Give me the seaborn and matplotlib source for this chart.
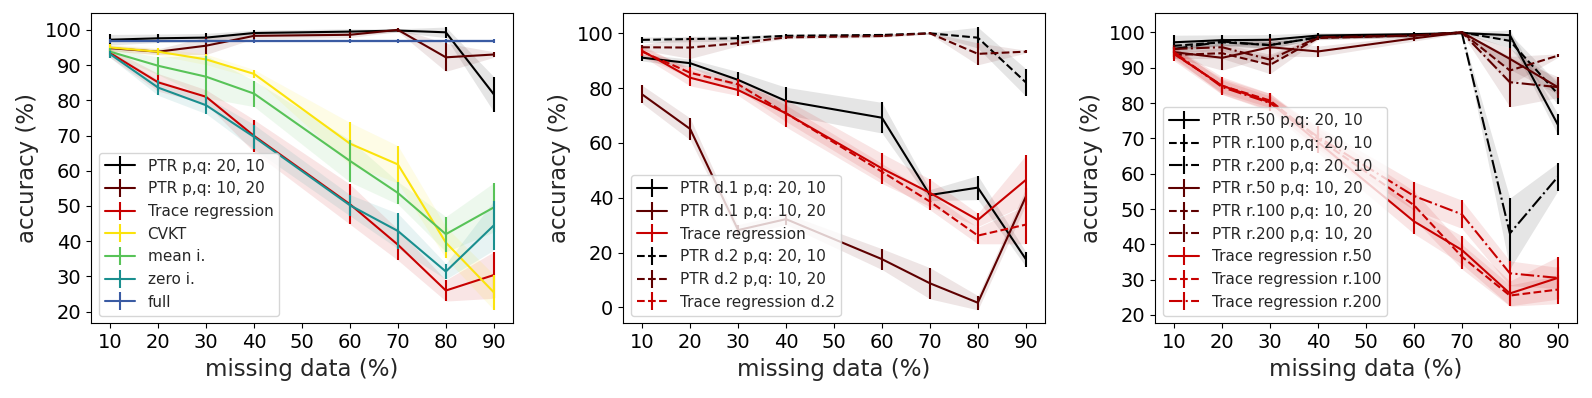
import matplotlib
matplotlib.use("Agg")
import matplotlib.pyplot as plt
from matplotlib.lines import Line2D
import numpy as np
import seaborn as sns

sns.set_style("ticks")
plt.rcParams['font.family'] = ['DejaVu Sans']
plt.rcParams['axes.edgecolor'] = 'black'
plt.rcParams['axes.linewidth'] = 0.8
plt.rcParams['xtick.major.size'] = 3.5
plt.rcParams['ytick.major.size'] = 3.5
plt.rcParams['xtick.color'] = 'black'
plt.rcParams['ytick.color'] = 'black'

# missing data levels
missing = [10, 20, 30, 40, 60, 70, 80, 90]

# colours
BLACK = '#000000'
DARKRED = '#5e0000'
RED = '#c80000'
YELLOW = '#fbe30c'
GREEN = '#58c358'
TEAL = '#1a8f8f'
BLUE = '#3a5ba3'

# ---- panel 1 ----
p1_labels = ['PTR p,q: 20, 10', 'PTR p,q: 10, 20', 'Trace regression',
             'CVKT', 'mean i.', 'zero i.', 'full']
p1_means = [
    [97.2, 97.6, 97.8, 99.1, 99.5, 99.8, 99.3, 81.7],
    [94.8, 93.8, 95.5, 98.3, 98.6, 100.0, 92.2, 93.0],
    [93.4, 85.1, 81.0, 69.9, 50.5, 39.0, 26.0, 30.4],
    [95.0, 93.8, 91.6, 87.5, 67.7, 61.8, 39.6, 25.5],
    [93.8, 89.8, 86.7, 81.9, 62.8, 53.7, 42.0, 49.6],
    [93.1, 83.6, 78.6, 69.6, 50.2, 42.9, 31.4, 44.5],
    [96.8, 96.8, 96.8, 96.8, 96.8, 96.8, 96.8, 96.8],
]
p1_errs = [
    [1.5, 1.2, 1.2, 0.8, 0.8, 0.5, 1.5, 5.0],
    [0.8, 0.8, 2.5, 0.8, 0.8, 0.5, 4.0, 0.8],
    [1.3, 2.5, 2.0, 4.6, 5.7, 4.4, 3.0, 6.6],
    [1.0, 1.0, 1.5, 1.2, 6.0, 5.3, 4.5, 5.0],
    [1.0, 2.5, 6.0, 3.7, 6.0, 3.2, 5.0, 7.0],
    [1.0, 2.2, 2.4, 3.5, 3.0, 5.0, 2.2, 7.0],
    [0.6, 0.6, 0.6, 0.6, 0.6, 0.6, 0.6, 0.6],
]
p1_colors = [BLACK, DARKRED, RED, YELLOW, GREEN, TEAL, BLUE]
p1_styles = ['-'] * 7

# ---- panel 2 ----
p2_labels = ['PTR d.1 p,q: 20, 10', 'PTR d.1 p,q: 10, 20', 'Trace regression',
             'PTR d.2 p,q: 20, 10', 'PTR d.2 p,q: 10, 20', 'Trace regression d.2']
p2_means = [
    [91.1, 89.1, 83.0, 75.3, 69.2, 41.0, 43.7, 17.6],
    [77.7, 65.1, 28.2, 32.2, 17.6, 8.8, 1.7, 40.4],
    [93.6, 83.8, 79.3, 70.8, 50.7, 41.8, 31.9, 46.5],
    [97.6, 97.9, 98.2, 99.1, 99.4, 100.0, 98.4, 82.1],
    [94.9, 94.8, 96.4, 98.5, 99.0, 100.0, 92.5, 93.3],
    [93.3, 85.6, 81.4, 70.8, 49.5, 38.6, 26.2, 30.2],
]
p2_errs = [
    [1.2, 1.5, 3.0, 5.0, 5.6, 2.0, 4.4, 2.7],
    [3.3, 4.0, 2.0, 2.0, 3.8, 5.7, 2.6, 3.0],
    [2.0, 3.0, 2.0, 5.0, 5.5, 5.0, 2.4, 9.0],
    [1.0, 1.0, 1.0, 0.5, 0.5, 0.3, 3.8, 5.0],
    [1.0, 4.0, 1.0, 0.5, 0.5, 0.3, 4.0, 0.5],
    [1.5, 2.0, 2.0, 3.0, 3.0, 3.0, 3.0, 7.0],
]
p2_colors = [BLACK, DARKRED, RED, BLACK, DARKRED, RED]
p2_styles = ['-', '-', '-', '--', '--', '--']

# ---- panel 3 ----
p3_labels = ['PTR r.50 p,q: 20, 10', 'PTR r.100 p,q: 20, 10', 'PTR r.200 p,q: 20, 10',
             'PTR r.50 p,q: 10, 20', 'PTR r.100 p,q: 10, 20', 'PTR r.200 p,q: 10, 20',
             'Trace regression r.50', 'Trace regression r.100', 'Trace regression r.200']
p3_means = [
    [97.2, 97.8, 97.9, 99.1, 99.5, 99.8, 99.2, 73.9],
    [96.2, 97.2, 96.4, 98.6, 99.2, 100.0, 97.6, 82.6],
    [95.3, 97.4, 96.4, 98.6, 99.2, 99.8, 43.1, 59.1],
    [94.4, 92.8, 95.8, 94.6, 98.3, 100.0, 92.5, 84.5],
    [93.6, 94.1, 90.8, 98.4, 99.1, 100.0, 89.2, 93.4],
    [95.3, 95.8, 92.3, 98.6, 99.1, 100.0, 85.9, 84.5],
    [93.9, 84.9, 80.2, 68.9, 46.5, 38.4, 26.1, 30.5],
    [93.9, 84.9, 80.7, 69.9, 51.1, 36.5, 25.5, 27.2],
    [94.4, 84.5, 80.0, 70.4, 53.7, 48.5, 31.8, 30.5],
]
p3_errs = [
    [2.0, 1.5, 1.5, 0.8, 0.5, 0.3, 1.5, 3.0],
    [1.0, 1.0, 1.0, 0.5, 0.5, 0.3, 2.0, 3.0],
    [1.0, 1.0, 1.0, 0.5, 0.5, 0.3, 10.0, 4.0],
    [1.5, 3.5, 2.5, 1.5, 0.8, 0.3, 3.0, 2.0],
    [1.0, 1.5, 2.5, 0.5, 0.5, 0.3, 4.0, 0.5],
    [1.0, 1.0, 1.5, 0.5, 0.5, 0.3, 7.0, 3.0],
    [2.0, 2.5, 2.5, 3.0, 3.5, 4.0, 3.5, 6.0],
    [1.5, 2.0, 2.0, 3.0, 4.0, 3.5, 3.0, 4.0],
    [1.5, 2.0, 2.0, 3.0, 4.0, 4.0, 3.5, 3.0],
]
p3_colors = [BLACK, BLACK, BLACK, DARKRED, DARKRED, DARKRED, RED, RED, RED]
p3_styles = ['-', '--', '-.', '-', '--', '-.', '-', '--', '-.']

panels = [
    (p1_labels, p1_means, p1_errs, p1_colors, p1_styles, (16.7, 104.7), np.arange(20, 101, 10)),
    (p2_labels, p2_means, p2_errs, p2_colors, p2_styles, (-5.8, 107.3), np.arange(0, 101, 20)),
    (p3_labels, p3_means, p3_errs, p3_colors, p3_styles, (17.65, 105.4), np.arange(20, 101, 10)),
]

fig = plt.figure(figsize=(15.92, 3.98), dpi=100)
lefts = [91 / 1592, 623 / 1592, 1155 / 1592]

for left, (labels, means, errs, colors, styles, ylim, yticks) in zip(lefts, panels):
    ax = fig.add_axes([left, 0.1877, 422 / 1592, 0.7789])
    x = np.array(missing)
    handles = []
    # shaded bands underneath everything
    for m, e, c in zip(means, errs, colors):
        m = np.array(m)
        e = np.array(e)
        ax.fill_between(x, m - e, m + e, color=c, alpha=0.1, lw=0, zorder=1)
    for lab, m, e, c, ls in zip(labels, means, errs, colors, styles):
        sns.lineplot(x=x, y=m, ax=ax, color=c, linestyle=ls, lw=1.5, zorder=2)
        ax.errorbar(x, m, yerr=e, fmt='none', ecolor=c, elinewidth=1.5, zorder=2)
        handles.append(Line2D([], [], color=c, linestyle=ls, lw=1.5, marker='|',
                              markersize=13, markeredgewidth=1.5))
    ax.set_xlim(6, 94)
    ax.set_ylim(*ylim)
    ax.set_xticks(np.arange(10, 91, 10))
    ax.set_yticks(yticks)
    ax.tick_params(labelsize=14)
    ax.set_xlabel('missing data (%)', fontsize=16.5)
    ax.set_ylabel('accuracy (%)', fontsize=16.5)
    ax.legend(handles, labels, loc='lower left', fontsize=11, numpoints=1)

plt.savefig('out.png', dpi=100)
